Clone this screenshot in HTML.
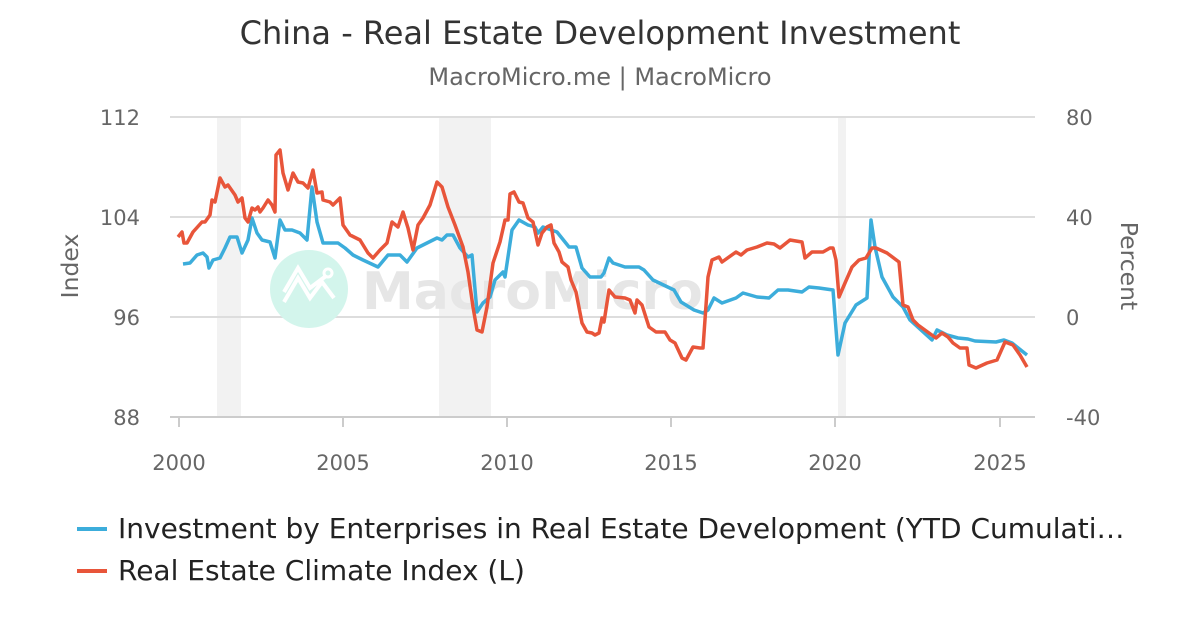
<!DOCTYPE html>
<html><head><meta charset="utf-8"><style>
body{margin:0;background:#fff;}
svg text{font-family:"DejaVu Sans","Liberation Sans",sans-serif;}
</style></head><body>
<svg width="1200" height="630" viewBox="0 0 1200 630" xmlns="http://www.w3.org/2000/svg">
<rect width="1200" height="630" fill="#fff"/>
<text x="600" y="44" text-anchor="middle" font-size="32" fill="#333">China - Real Estate Development Investment</text>
<text x="600" y="85" text-anchor="middle" font-size="24" fill="#666">MacroMicro.me | MacroMicro</text>
<rect x="217" y="117" width="24" height="300" fill="#f2f2f2"/>
<rect x="439" y="117" width="52" height="300" fill="#f2f2f2"/>
<rect x="838" y="117" width="8" height="300" fill="#f2f2f2"/>
<g stroke="#dddddd" stroke-width="2">
<line x1="170" y1="117" x2="1035" y2="117"/>
<line x1="170" y1="217" x2="1035" y2="217"/>
<line x1="170" y1="317" x2="1035" y2="317"/>
</g>
<line x1="170" y1="417" x2="1035" y2="417" stroke="#ccc" stroke-width="2"/>
<g stroke="#ccc" stroke-width="2">
<line x1="179" y1="417" x2="179" y2="427"/><line x1="343" y1="417" x2="343" y2="427"/>
<line x1="507" y1="417" x2="507" y2="427"/><line x1="671" y1="417" x2="671" y2="427"/>
<line x1="835" y1="417" x2="835" y2="427"/><line x1="1000" y1="417" x2="1000" y2="427"/>
</g>
<circle cx="309" cy="289" r="39" fill="#d3f5ec"/>
<polyline points="284,302 298,278 310,298 322,282 334,298" fill="none" stroke="#fff" stroke-width="4"/>
<polyline points="284,292 298,268 310,288 326,276" fill="none" stroke="#fff" stroke-width="4"/>
<circle cx="328" cy="273" r="4" fill="none" stroke="#fff" stroke-width="3"/>
<text x="362" y="309" font-size="52" font-weight="bold" fill="#e6e6e6">MacroMicro</text>
<g font-size="21" fill="#666" text-anchor="end">
<text x="140" y="125">112</text><text x="140" y="225">104</text><text x="140" y="325">96</text><text x="140" y="425">88</text>
</g>
<g font-size="21" fill="#666">
<text x="1066" y="125">80</text><text x="1066" y="225">40</text><text x="1066" y="325">0</text><text x="1066" y="425">-40</text>
</g>
<g font-size="21" fill="#666" text-anchor="middle">
<text x="179" y="470">2000</text><text x="343" y="470">2005</text><text x="507" y="470">2010</text>
<text x="671" y="470">2015</text><text x="835" y="470">2020</text><text x="1000" y="470">2025</text>
</g>
<text transform="translate(78,266) rotate(-90)" text-anchor="middle" font-size="23.5" fill="#666">Index</text>
<text transform="translate(1121,266) rotate(90)" text-anchor="middle" font-size="23.5" fill="#666">Percent</text>
<polyline fill="none" stroke="#3caddb" stroke-width="3.5" stroke-linejoin="round" points="183,264 190,263 197,255 203,253 207,257 209,268 213,260 220,258 225,248 230,237 237,237 242,253 248,240 252,218 257,233 262,240 270,242 275,258 280,220 285,230 292,230 300,233 307,240 312,187 317,222 323,243 333,243 338,243 345,248 353,255 363,260 378,267 388,255 400,255 407,262 417,248 427,243 437,238 442,240 447,235 453,235 460,248 468,257 472,255 477,312 483,303 490,297 495,280 503,272 505,277 512,230 519,220 528,225 535,227 538,233 543,227 557,232 569,247 576,247 582,268 590,277 601,277 604,273 609,258 613,263 625,267 639,267 644,270 653,280 674,290 681,302 694,310 703,313 708,310 714,298 722,303 736,298 743,293 757,297 769,298 778,290 788,290 802,292 809,287 819,288 833,290 838,355 845,323 856,305 867,298 871,220 875,247 882,277 893,297 903,307 910,320 921,330 932,340 937,330 947,335 958,338 968,339 975,341 996,342 1004,340 1012,343 1027,355"/>
<polyline fill="none" stroke="#e8553a" stroke-width="3.5" stroke-linejoin="round" points="178,237 182,232 184,243 187,243 193,232 202,222 205,222 210,215 212,200 215,202 220,178 225,187 228,185 235,195 238,202 242,198 245,218 248,222 252,208 255,210 258,207 260,212 263,208 268,200 272,205 275,212 276,155 280,150 283,173 288,190 293,173 298,182 303,183 308,188 313,170 317,193 322,192 323,200 330,202 333,205 340,198 343,225 350,235 360,240 368,253 373,258 380,250 387,243 392,222 398,227 403,212 408,228 413,250 418,225 423,218 430,205 437,182 442,187 448,207 455,225 463,247 468,272 473,307 477,330 482,332 487,307 493,263 500,242 505,220 508,220 510,194 514,192 519,202 523,203 528,218 533,222 538,245 542,233 547,227 551,225 554,243 559,252 562,262 568,267 571,280 576,292 582,323 587,332 592,333 595,335 599,333 602,318 604,322 609,290 615,297 625,298 630,300 635,313 637,300 642,305 649,327 656,332 665,332 670,340 675,343 682,358 686,360 693,347 700,348 703,348 708,277 712,260 719,257 722,262 736,252 741,255 747,250 757,247 767,243 774,244 780,248 790,240 802,242 805,258 812,252 823,252 830,248 833,248 836,260 839,297 845,283 852,267 859,260 866,258 872,248 876,248 887,253 899,262 903,305 908,307 913,320 918,325 929,333 936,338 942,333 948,337 953,343 960,348 967,348 969,365 976,368 987,363 997,360 1005,342 1013,345 1020,355 1027,367"/>
<line x1="77" y1="529" x2="107" y2="529" stroke="#3caddb" stroke-width="4"/>
<text x="118" y="538" font-size="28" fill="#222">Investment by Enterprises in Real Estate Development (YTD Cumulati…</text>
<line x1="77" y1="571" x2="107" y2="571" stroke="#e8553a" stroke-width="4"/>
<text x="118" y="580" font-size="28" fill="#222">Real Estate Climate Index (L)</text>
</svg>
</body></html>
